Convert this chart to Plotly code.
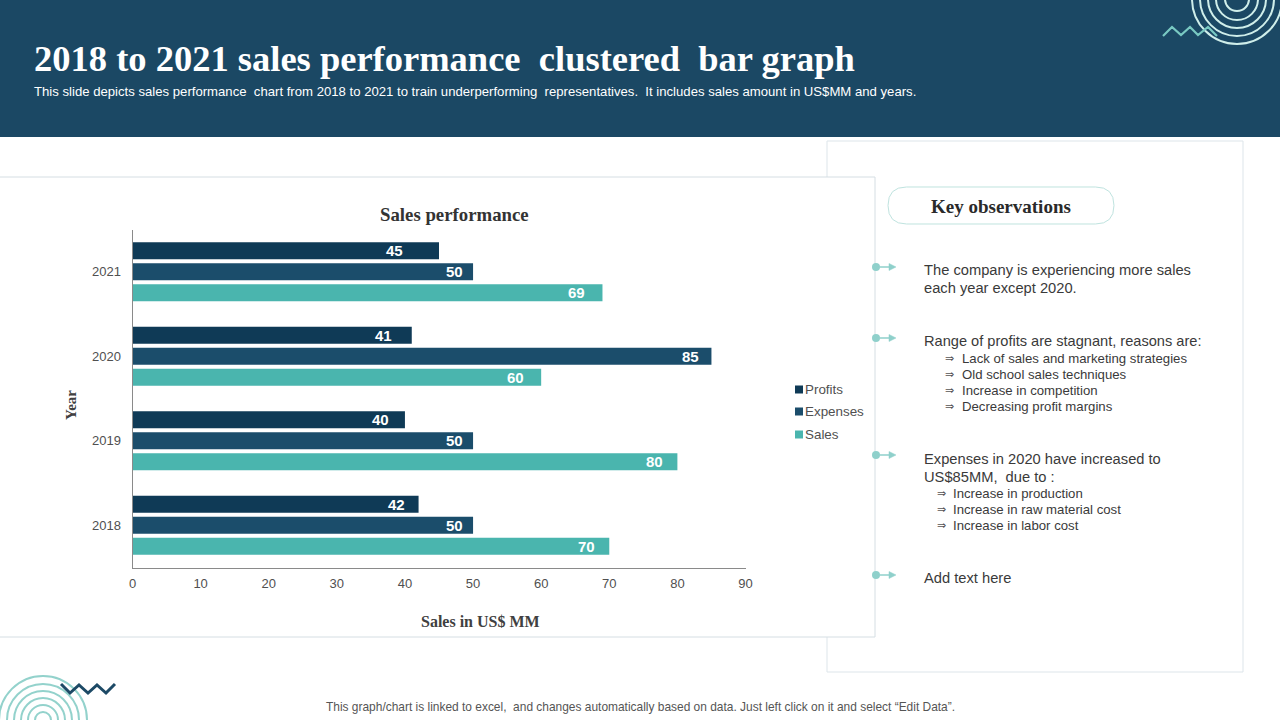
import plotly.graph_objects as go

W, H = 1280, 720
years = ["2021", "2020", "2019", "2018"]
profits = [45, 41, 40, 42]
expenses = [50, 85, 50, 50]
sales = [69, 60, 80, 70]
x_ticks = [0, 10, 20, 30, 40, 50, 60, 70, 80, 90]

NAVY = "#0f3a56"
BLUE = "#1b4d6b"
TEAL = "#4ab5ae"
HEADER = "#1b4864"
MINT = "#8fd0cb"
SANS = "Liberation Sans"
SERIF = "Liberation Serif"


def X(v):
    return v / W


def Y(v):
    return 1 - v / H


fig = go.Figure()
for name, vals, col in [("Profits", profits, NAVY), ("Expenses", expenses, BLUE), ("Sales", sales, TEAL)]:
    fig.add_bar(y=years, x=vals, name=name, orientation="h", marker=dict(color=col, line=dict(width=0)))

shapes = []
ann = []


def rect(x0, y0, x1, y1, fill="rgba(0,0,0,0)", line=None, w=1):
    shapes.append(dict(type="rect", xref="paper", yref="paper", x0=X(x0), x1=X(x1), y0=Y(y1), y1=Y(y0),
                       fillcolor=fill, line=dict(color=line or fill, width=w if line else 0), layer="below"))


def circle(cx, cy, r, fill="rgba(0,0,0,0)", line=None, w=2, layer="below"):
    shapes.append(dict(type="circle", xref="paper", yref="paper", x0=X(cx - r), x1=X(cx + r), y0=Y(cy + r), y1=Y(cy - r),
                       fillcolor=fill, line=dict(color=line or fill, width=w if line else 0), layer=layer))


def poly(pts, color, w=2, fill=None):
    d = "M" + " L".join(f"{X(a):.5f},{Y(b):.5f}" for a, b in pts) + (" Z" if fill else "")
    shapes.append(dict(type="path", xref="paper", yref="paper", path=d, fillcolor=fill,
                       line=dict(color=color, width=w), layer="below"))


def text(x, y, s, size=14, color="#3a3a3a", font=SANS, anchor="left", bold=False, angle=0):
    ann.append(dict(xref="paper", yref="paper", x=X(x), y=Y(y), text=f"<b>{s}</b>" if bold else s, showarrow=False,
                    xanchor=anchor, yanchor="middle", textangle=angle,
                    font=dict(family=font, size=size, color=color), borderpad=0, borderwidth=0))


# header
rect(0, 0, W, 137, HEADER)
for r in (45, 37, 29, 21, 12):
    circle(1237, -1, r, line="#cfeeea", w=2)
poly([(1163, 36), (1172, 27), (1181, 35), (1190, 27), (1198, 35), (1208, 27), (1217, 36)], "#79c9c2", 2.2)
# panels
rect(827, 141, 1243, 672, "#ffffff", "#dde5ea", 1)
rect(-2, 177, 875, 637, "#ffffff", "#d5dee3", 1)
# corner
for r in (44, 36, 29, 22, 15, 8):
    circle(43, 720, r, line="#93d2cc", w=2)
poly([(61, 684), (70, 693), (79, 685), (88, 693), (97, 685), (106, 693), (115, 684)], "#1d4a66", 3)
# pill
px0, px1, py0, py1, rd = 888, 1114, 187, 224, 18.5
pill = (f"M{X(px0 + rd):.5f},{Y(py0):.5f} L{X(px1 - rd):.5f},{Y(py0):.5f} "
        f"Q{X(px1):.5f},{Y(py0):.5f} {X(px1):.5f},{Y((py0 + py1) / 2):.5f} "
        f"Q{X(px1):.5f},{Y(py1):.5f} {X(px1 - rd):.5f},{Y(py1):.5f} L{X(px0 + rd):.5f},{Y(py1):.5f} "
        f"Q{X(px0):.5f},{Y(py1):.5f} {X(px0):.5f},{Y((py0 + py1) / 2):.5f} "
        f"Q{X(px0):.5f},{Y(py0):.5f} {X(px0 + rd):.5f},{Y(py0):.5f} Z")
shapes.append(dict(type="path", xref="paper", yref="paper", path=pill, fillcolor="#ffffff",
                   line=dict(color="#bfe3df", width=1), layer="below"))
# bullets
for y in (267, 338, 455, 575):
    circle(876, y, 4, MINT)
    poly([(880, y), (890, y)], MINT, 1.5)
    poly([(889, y - 3.5), (896, y), (889, y + 3.5)], MINT, 0.5, fill=MINT)

# legend
for y, name, col in [(389.5, "Profits", NAVY), (411.5, "Expenses", BLUE), (434.5, "Sales", TEAL)]:
    rect(795, y - 4, 803, y + 4, col)
    text(805, y, name, 13.4, "#505050")

# header text
text(34, 58, "2018 to 2021 sales performance&#160;&#160;clustered&#160;&#160;bar graph", 36.5, "#ffffff", SERIF, bold=True)
text(34, 91, "This slide depicts sales performance&#160;&#160;chart from 2018 to 2021 to train underperforming&#160;&#160;representatives.&#160;&#160;It includes sales amount in US$MM and years.", 13.15, "#ffffff")
# chart text
text(454, 214, "Sales performance", 18.8, "#333333", SERIF, "center", True)
text(480, 621, "Sales in US$ MM", 16, "#404040", SERIF, "center", True)
text(71, 405, "Year", 15, "#404040", SERIF, "center", True, -90)
# observations
text(1001, 206, "Key observations", 19, "#2a2a2a", SERIF, "center", True)
text(924, 270, "The company is experiencing more sales", 14.7)
text(924, 288, "each year except 2020.", 14.7)
text(924, 341, "Range of profits are stagnant, reasons are:", 14.6)
for y, s in [(358, "Lack of sales and marketing strategies"), (374, "Old school sales techniques"),
             (390, "Increase in competition"), (406, "Decreasing profit margins")]:
    text(945, y, "⇒", 11, "#555555")
    text(962, y, s, 13.2)
text(924, 459, "Expenses in 2020 have increased to", 14.7)
text(924, 477, "US$85MM,&#160;&#160;due to :", 14.7)
for y, s in [(493, "Increase in production"), (509, "Increase in raw material cost"), (525, "Increase in labor cost")]:
    text(937, y, "⇒", 11, "#555555")
    text(953, y, s, 13.2)
text(924, 578, "Add text here", 14.7)
text(640.5, 707, "This graph/chart is linked to excel,&#160;&#160;and changes automatically based on data. Just left click on it and select “Edit Data”.", 11.95, "#555555", SANS, "center")

# value labels, tied to the data axes (a category axis takes the category's index)
label_shift = {"Profits": [-45, -28, -24, -22], "Expenses": [-19, -21, -19, -19], "Sales": [-26, -26, -23, -23]}
for name, vals, dy in [("Profits", profits, -21), ("Expenses", expenses, 0), ("Sales", sales, 21)]:
    for i, v in enumerate(vals):
        ann.append(dict(xref="x", yref="y", x=v, y=i, text=f"<b>{v}</b>", showarrow=False,
                        xshift=label_shift[name][i], yshift=-dy,
                        font=dict(family=SANS, size=15, color="#ffffff")))

fig.update_layout(
    width=W, height=H, margin=dict(l=0, r=0, t=0, b=0), paper_bgcolor="#ffffff", plot_bgcolor="rgba(0,0,0,0)",
    barmode="group", bargap=0.255, bargroupgap=0.19, shapes=shapes, annotations=ann, showlegend=False,
    font=dict(family=SANS, size=12, color="#595959"),
    xaxis=dict(domain=[X(132.5), X(745.5)], range=[0, 90], tickvals=x_ticks, showgrid=False, zeroline=False,
               ticks="", ticklabelstandoff=4, tickfont=dict(size=13, color="#505050"), showline=True,
               linecolor="#8a8a8a", linewidth=1, anchor="y", side="bottom", automargin=False),
    yaxis=dict(domain=[Y(567.5), Y(229.5)], categoryorder="array", categoryarray=years, range=[3.5, -0.5],
               type="category", showgrid=False, zeroline=False, ticks="", ticklabelstandoff=8,
               tickfont=dict(size=13, color="#505050"), showline=True, linecolor="#8a8a8a", linewidth=1,
               anchor="x", automargin=False),
)
fig.write_html("out.html", config=dict(displayModeBar=False),
               post_script="document.body.style.margin='0';document.body.style.overflow='hidden';")
